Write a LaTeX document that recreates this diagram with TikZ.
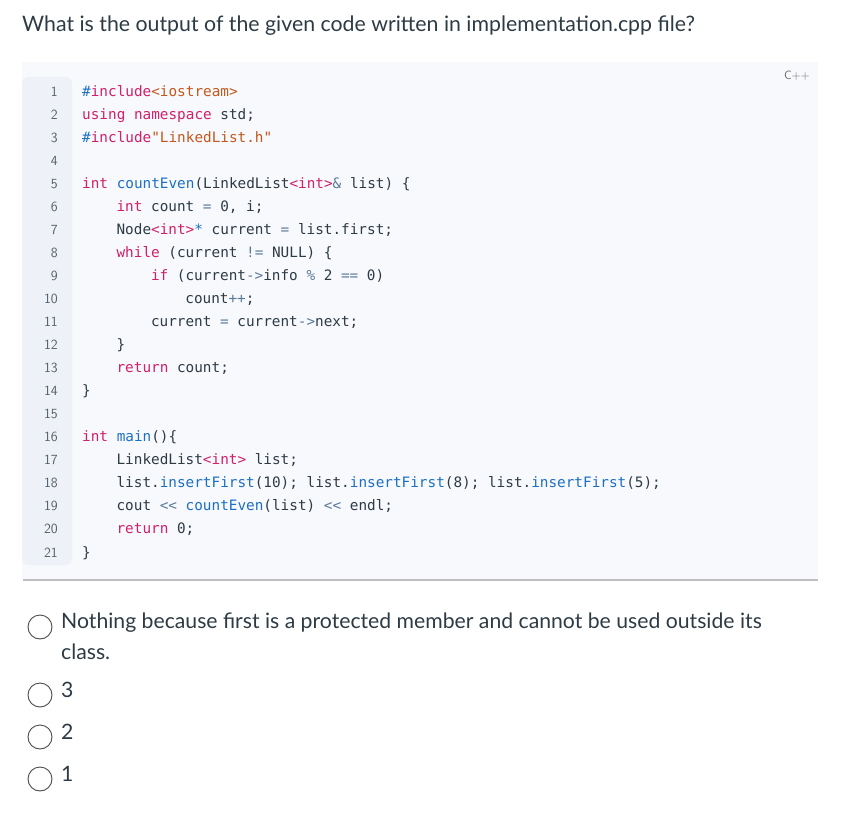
\documentclass[tikz,border=0pt]{standalone}
\usepackage{fontspec}
\setmainfont{Lato}
\setmonofont{DejaVu Sans Mono}
\definecolor{kw}{HTML}{D0206A}
\definecolor{fn}{HTML}{1C6FC4}
\definecolor{st}{HTML}{C2581C}
\definecolor{op}{HTML}{5A7A99}
\definecolor{tx}{HTML}{2D3B45}
\definecolor{ln}{HTML}{55606B}
\definecolor{codebg}{HTML}{F8F9FC}
\definecolor{gut}{HTML}{EEF1F8}
\newcommand\K[1]{\textcolor{kw}{#1}}
\newcommand\F[1]{\textcolor{fn}{#1}}
\newcommand\Sx[1]{\textcolor{st}{#1}}
\newcommand\Op[1]{\textcolor{op}{#1}}
\begin{document}
\begin{tikzpicture}[x=1pt,y=-1pt,
  code/.style={anchor=base west,inner sep=0,text=tx,font=\ttfamily\fontsize{14.35}{17}\selectfont},
  lno/.style={anchor=base east,inner sep=0,text=ln,font=\sffamily\fontsize{14}{16}\selectfont},
  opt/.style={anchor=base west,inner sep=0,text=tx,font=\fontsize{21.2}{24}\selectfont},
  radio/.style={draw=black!70,line width=0.9pt,fill=white,circle,minimum size=24pt,inner sep=0}]
\useasboundingbox (0,0) rectangle (860,816);
\node[anchor=base west,inner sep=0,text=tx,font=\fontsize{21.3}{24}\selectfont] (title) at (22,32) {What is the output of the given code written in implementation.cpp file?};
% code box
\fill[black!25] (23,64) rectangle (818,581);
\fill[codebg] (22,62) rectangle (818,579);
\fill[gut] (22,77) [rounded corners=6pt] -- (22,565) -- (72,565) -- (72,77) -- cycle;
\node[anchor=base east,inner sep=0,text=black!60,font=\sffamily\fontsize{12}{14}\selectfont] (lang) at (810,80) {C++};
\foreach \i in {1,...,21}{\node[lno] (n\i) at (58,{96+(\i-1)*23.05}) {\i};}
\def\Y#1{{96+(#1-1)*23.05}}
\def\X#1{{82+#1*8.6}}
\node[code] (c1) at (\X0,\Y1) {\F{\#}\K{include}\Sx{<iostream>}};
\node[code] (c2) at (\X0,\Y2) {\K{using namespace} std;};
\node[code] (c3) at (\X0,\Y3) {\F{\#}\K{include}\Sx{"LinkedList.h"}};
\node[code] (c5) at (\X0,\Y5) {\K{int} \F{countEven}(LinkedList\K{<int>}\Op{\&} list) \{};
\node[code] (c6) at (\X4,\Y6) {\K{int} count \Op{=} 0, i;};
\node[code] (c7) at (\X4,\Y7) {Node\K{<int>}\F{*} current \Op{=} list.first;};
\node[code] (c8) at (\X4,\Y8) {\K{while} (current \Op{!=} NULL) \{};
\node[code] (c9) at (\X8,\Y9) {\K{if} (current\Op{->}info \Op{\%} 2 \Op{==} 0)};
\node[code] (c10) at (\X{12},\Y{10}) {count\Op{++};};
\node[code] (c11) at (\X8,\Y{11}) {current \Op{=} current\Op{->}next;};
\node[code] (c12) at (\X4,\Y{12}) {\}};
\node[code] (c13) at (\X4,\Y{13}) {\K{return} count;};
\node[code] (c14) at (\X0,\Y{14}) {\}};
\node[code] (c16) at (\X0,\Y{16}) {\K{int} \F{main}()\{};
\node[code] (c17) at (\X4,\Y{17}) {LinkedList\K{<int>} list;};
\node[code] (c18) at (\X4,\Y{18}) {list.\F{insertFirst}(10); list.\F{insertFirst}(8); list.\F{insertFirst}(5);};
\node[code] (c19) at (\X4,\Y{19}) {cout \Op{<<} \F{countEven}(list) \Op{<<} endl;};
\node[code] (c20) at (\X4,\Y{20}) {\K{return} 0;};
\node[code] (c21) at (\X0,\Y{21}) {\}};
% options
\node[radio] (r1) at (40,627) {};
\node[opt] (o1) at (61,628) {Nothing because first is a protected member and cannot be used outside its};
\node[opt] (o1b) at (61,659) {class.};
\node[radio] (r2) at (40,695) {};
\node[opt] (o2) at (61,697) {3};
\node[radio] (r3) at (40,737) {};
\node[opt] (o3) at (61,739) {2};
\node[radio] (r4) at (40,779) {};
\node[opt] (o4) at (61,781) {1};
\end{tikzpicture}
\end{document}
